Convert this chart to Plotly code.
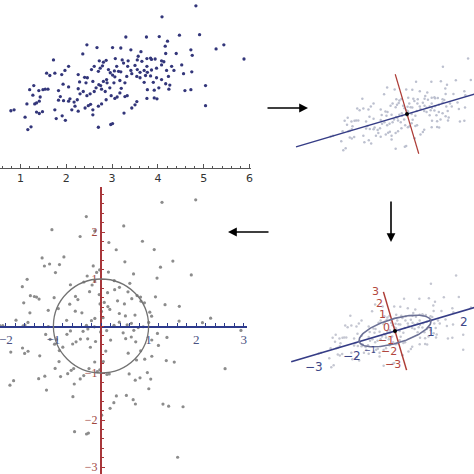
import numpy as np
import plotly.graph_objects as go

# ---------------- data ----------------
x_vals = [4.83,4.09,6.14,4.91,4.47,4.03,3.75,3.30,4.21,2.45,
          2.67,3.01,3.19,3.41,3.63,2.36,4.72,4.75,4.16,4.17,
          4.40,5.27,5.44,5.88,1.72,2.72,2.87,3.07,3.22,3.35,
          3.55,3.57,3.76,3.84,3.94,4.08,4.13,2.05,1.97,1.90,
          1.75,1.64,1.57,1.29,1.20,1.27,1.40,1.49,1.54,1.60,
          1.83,1.93,2.05,2.26,2.29,2.40,2.46,2.55,2.58,2.70,
          2.74,2.79,2.81,2.92,2.96,3.05,3.10,3.14,3.19,3.25,
          3.34,3.41,3.50,3.55,3.61,3.70,3.77,3.86,3.97,4.08,
          4.19,4.23,4.30,4.35,4.52,4.56,4.74,4.72,4.59,4.26,
          4.17,4.08,3.97,3.90,3.84,3.73,3.70,3.61,3.54,3.43,
          3.32,3.28,3.17,3.06,3.01,2.88,2.81,2.75,2.71,2.65,
          2.61,2.52,2.45,2.37,2.30,2.24,2.17,2.08,2.05,1.94,
          1.87,1.83,1.75,1.78,1.91,1.98,2.12,2.19,2.26,2.41,
          2.48,2.53,2.58,2.58,2.70,2.77,2.87,2.98,3.06,3.11,
          3.17,3.28,3.33,3.20,3.04,2.95,2.77,2.85,3.43,3.50,
          3.54,3.26,2.97,3.01,2.70,3.76,3.92,3.98,3.77,3.92,
          4.02,4.24,5.04,5.04,1.31,1.35,1.41,1.43,1.35,1.41,
          1.48,1.14,1.10,1.16,1.23,0.86,0.79,2.26,2.43,2.89,
          2.61,3.76,3.65,3.86]
y_vals = [3.54,3.30,2.79,2.91,2.90,2.87,2.86,2.86,2.77,2.69,
          2.63,2.63,2.62,2.58,2.54,2.49,2.58,2.46,2.66,2.50,
          2.50,2.60,2.69,2.38,2.36,2.34,2.35,2.39,2.36,2.34,
          2.36,2.44,2.39,2.40,2.38,2.34,2.32,2.22,2.13,2.04,
          2.07,2.02,2.07,1.80,1.71,1.59,1.69,1.71,1.72,1.72,
          1.69,1.83,1.77,1.73,1.88,1.98,1.97,2.15,1.89,2.11,
          2.18,2.23,2.31,2.15,2.08,2.12,2.22,2.11,2.10,2.29,
          2.22,2.13,2.24,2.15,2.09,2.13,2.09,2.14,2.18,2.25,
          2.13,2.00,2.22,2.13,2.25,2.06,2.10,1.71,1.69,1.81,
          1.84,1.93,1.97,1.87,2.01,2.02,1.87,1.97,2.00,2.06,
          2.00,1.86,1.91,1.99,2.03,1.93,1.89,1.80,1.82,1.75,
          1.67,1.62,1.58,1.67,1.62,1.49,1.44,1.51,1.46,1.47,
          1.56,1.48,1.27,1.08,1.14,1.04,1.27,1.35,1.24,1.31,
          1.36,1.39,1.27,1.16,1.35,1.40,1.49,1.58,1.52,1.55,
          1.64,1.56,1.58,1.74,1.86,1.75,1.72,1.67,1.31,1.38,
          1.45,1.20,0.95,0.97,0.89,1.52,1.53,1.51,1.71,1.70,
          1.75,1.72,1.80,1.36,1.40,1.42,1.46,1.55,1.22,1.19,
          1.23,1.40,1.11,0.84,0.90,1.27,1.25,2.04,1.86,1.86,
          2.22,2.22,2.33,2.37]

tl_tick_vals = [1, 2, 3, 4, 5, 6]
bl_xtick_vals = [-2, -1, 1, 2, 3]
bl_xtick_text = ["−2", "−1", "1", "2", "3"]
bl_ytick_vals = [-3, -2, -1, 1, 2]
bl_ytick_text = ["−3", "−2", "−1", "1", "2"]
# label positions along the principal axes of the lower-right panel (data units)
br_pc1_label_pos = [-2.45, -1.3, -0.72, 1.12, 2.15]
br_pc1_label_text = ["−3", "−2", "−1", "1", "2"]
br_pc2_label_pos = [1.22, 0.84, 0.50, 0.12, -0.28, -0.62, -1.02]
br_pc2_label_text = ["3", "2", "1", "0", "−1", "−2", "−3"]

# ---------------- PCA of the data ----------------
X = np.column_stack([x_vals, y_vals])
mu = X.mean(axis=0)
C = np.cov(X.T)
evals, evecs = np.linalg.eigh(C)
order = np.argsort(evals)[::-1]
evals = evals[order]
evecs = evecs[:, order]
e1 = evecs[:, 0] * (1 if evecs[0, 0] > 0 else -1)
e2 = np.array([-e1[1], e1[0]])
s1, s2 = np.sqrt(evals)
D = X - mu
z1 = D @ e1 / s1
z2 = D @ e2 / s2

W = H = 474
def xdom(p0, p1): return [p0 / W, p1 / W]
def ydom(top, bot): return [1 - bot / H, 1 - top / H]
def xrng(p0, p1, cpx, cval, s): return [cval + (p0 - cpx) / s, cval + (p1 - cpx) / s]
def yrng(top, bot, cpy, cval, s): return [cval - (bot - cpy) / s, cval + (cpy - top) / s]

S = 34.0
BLUE = "#353c86"
RED = "#ad3c36"

fig = go.Figure()

# ---- panel A: raw data ----
fig.add_trace(go.Scatter(x=x_vals, y=y_vals, mode="markers", xaxis="x", yaxis="y",
                         marker=dict(size=3.3, color="#33367a"), cliponaxis=False,
                         hoverinfo="skip"))

def pc_line(t0, t1, e, s):
    t = np.array([t0, t1])
    return mu[0] + t * s * e[0], mu[1] + t * s * e[1]

# ---- panel B: data with principal axes ----
fig.add_trace(go.Scatter(x=x_vals, y=y_vals, mode="markers", xaxis="x2", yaxis="y2",
                         marker=dict(size=2.5, color="#bcc0cf"), hoverinfo="skip"))
bx, by = pc_line(-3.1, 3.0, e1, s1)
fig.add_trace(go.Scatter(x=bx, y=by, mode="lines", xaxis="x2", yaxis="y2",
                         line=dict(color=BLUE, width=1.4), hoverinfo="skip"))
rx, ry = pc_line(-1.22, 1.22, e2, 1.0)
fig.add_trace(go.Scatter(x=rx, y=ry, mode="lines", xaxis="x2", yaxis="y2",
                         line=dict(color=RED, width=1.2), hoverinfo="skip"))
fig.add_trace(go.Scatter(x=[mu[0]], y=[mu[1]], mode="markers", xaxis="x2", yaxis="y2",
                         marker=dict(size=4, color="black"), hoverinfo="skip"))

# ---- panel C: data with scaled principal axes and 1-sigma ellipse ----
fig.add_trace(go.Scatter(x=x_vals, y=y_vals, mode="markers", xaxis="x3", yaxis="y3",
                         marker=dict(size=2.5, color="#c4c6d1"), hoverinfo="skip"))
bx, by = pc_line(-2.9, 3.0, e1, s1)
fig.add_trace(go.Scatter(x=bx, y=by, mode="lines", xaxis="x3", yaxis="y3",
                         line=dict(color=BLUE, width=1.6), hoverinfo="skip"))
rx, ry = pc_line(-1.2, 1.2, e2, 1.0)
fig.add_trace(go.Scatter(x=rx, y=ry, mode="lines", xaxis="x3", yaxis="y3",
                         line=dict(color=RED, width=1.5), hoverinfo="skip"))
th = np.linspace(0, 2 * np.pi, 200)
minor_r = 0.36
ex = mu[0] + s1 * np.cos(th) * e1[0] + minor_r * np.sin(th) * e2[0]
ey = mu[1] + s1 * np.cos(th) * e1[1] + minor_r * np.sin(th) * e2[1]
fig.add_trace(go.Scatter(x=ex, y=ey, mode="lines", xaxis="x3", yaxis="y3",
                         line=dict(color="#6c7196", width=1.6), hoverinfo="skip"))
fig.add_trace(go.Scatter(x=[mu[0]], y=[mu[1]], mode="markers", xaxis="x3", yaxis="y3",
                         marker=dict(size=4, color="black"), hoverinfo="skip"))

annotations = []
for p, t in zip(br_pc1_label_pos, br_pc1_label_text):
    small = (t == "−1")
    annotations.append(dict(x=mu[0] + p * e1[0], y=mu[1] + p * e1[1],
                            xref="x3", yref="y3", text=t, showarrow=False,
                            yshift=-13 if small else -12, xshift=-2 if small else -1,
                            font=dict(family="DejaVu Sans", size=8 if small else 12,
                                      color="#3d4788")))
for p, t in zip(br_pc2_label_pos, br_pc2_label_text):
    annotations.append(dict(x=mu[0] + p * e2[0], y=mu[1] + p * e2[1],
                            xref="x3", yref="y3", text=t, showarrow=False,
                            xanchor="right", xshift=-2,
                            font=dict(family="DejaVu Sans", size=11, color="#b2463e")))

# ---- panel D: whitened data ----
fig.add_trace(go.Scatter(x=z1, y=z2, mode="markers", xaxis="x4", yaxis="y4",
                         marker=dict(size=3.2, color="#8c8c8c"), hoverinfo="skip"))
fig.add_shape(type="circle", xref="x4", yref="y4", x0=-1, y0=-1, x1=1, y1=1,
              line=dict(color="#727272", width=1.3))

# ---- arrows ----
for hx, hy, ax, ay in [(308, 108, -42, 0), (391, 242, 0, -42), (228, 232, 42, 0)]:
    annotations.append(dict(x=hx / W, y=1 - hy / H, xref="paper", yref="paper",
                            ax=ax, ay=ay, text="", showarrow=True, arrowhead=2,
                            arrowsize=1.1, arrowwidth=1.6, arrowcolor="black"))

fig.update_layout(
    width=W, height=H, margin=dict(l=0, r=0, t=0, b=0, autoexpand=False),
    paper_bgcolor="white", plot_bgcolor="rgba(0,0,0,0)", showlegend=False,
    xaxis=dict(domain=xdom(0, 251), range=xrng(0, 251, -25.3, 0, 45.8), automargin=False,
               showline=True, linecolor="#555", linewidth=1, showgrid=False, zeroline=False,
               ticks="inside", ticklen=4, tickcolor="#555", tickvals=tl_tick_vals,
               minor=dict(dtick=0.2, tick0=0, ticks="inside", ticklen=2, tickcolor="#555"),
               tickfont=dict(family="DejaVu Sans", size=11, color="#333"),
               anchor="y", fixedrange=True),
    yaxis=dict(domain=ydom(0, 168), range=yrng(0, 168, 168, 0, 45.8), visible=False,
               automargin=False, anchor="x"),
    xaxis2=dict(domain=xdom(262, 474), range=xrng(262, 474, 407, mu[0], S), visible=False,
                automargin=False, anchor="y2"),
    yaxis2=dict(domain=ydom(30, 180), range=yrng(30, 180, 114, mu[1], S), visible=False,
                automargin=False, anchor="x2"),
    xaxis3=dict(domain=xdom(270, 474), range=xrng(270, 474, 395, mu[0], S), visible=False,
                automargin=False, anchor="y3"),
    yaxis3=dict(domain=ydom(262, 400), range=yrng(262, 400, 331, mu[1], S), visible=False,
                automargin=False, anchor="x3"),
    xaxis4=dict(domain=xdom(0, 247), range=xrng(0, 247, 101, 0, 47.6), automargin=False,
                anchor="free", position=(H - 327) / H, ticklabeloverflow="allow",
                showline=True, linecolor="#2d3a8c", linewidth=2.4, showgrid=False,
                zeroline=False, ticks="inside", ticklen=3, tickcolor="#2d3a8c",
                tickvals=bl_xtick_vals, ticktext=bl_xtick_text,
                minor=dict(dtick=0.2, tick0=0, ticks="inside", ticklen=3, tickcolor="#2d3a8c"),
                tickfont=dict(family="Liberation Serif", size=13, color="#4a5282")),
    yaxis4=dict(domain=ydom(187, 474), range=yrng(187, 474, 326, 0, 47.0), automargin=False,
                anchor="free", position=101 / W, ticklabeloverflow="allow",
                showline=True, linecolor="#a8363a", linewidth=2.2, showgrid=False,
                zeroline=False, ticks="inside", ticklen=3, tickcolor="#a8363a",
                tickvals=bl_ytick_vals, ticktext=bl_ytick_text,
                minor=dict(dtick=0.2, tick0=0, ticks="inside", ticklen=2, tickcolor="#a8363a"),
                tickfont=dict(family="Liberation Serif", size=12, color="#a0473f")),
    annotations=annotations,
)

fig.write_html("out.html", config={"displayModeBar": False},
               post_script="document.body.style.margin='0px';document.body.style.overflow='hidden';")
